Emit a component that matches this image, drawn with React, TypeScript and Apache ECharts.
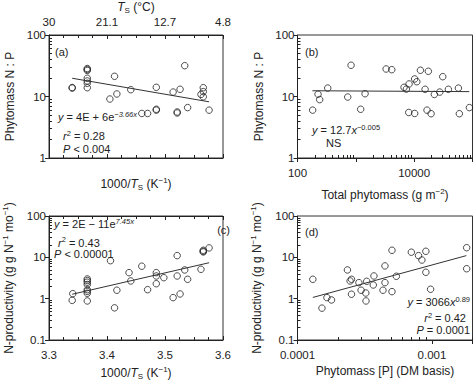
import React, { useEffect, useRef } from "react";
import * as echarts from "echarts";

const FONT = "'Liberation Sans', Arial, Helvetica, sans-serif";
const INK = "#222";

// ---------- Panel (a): 1000/Ts (K^-1) vs phytomass N:P
const aInvT = [3.34, 3.34, 3.366, 3.366, 3.366, 3.366, 3.366, 3.366, 3.366, 3.405, 3.413, 3.417, 3.441, 3.46, 3.47, 3.485, 3.485, 3.485, 3.514, 3.521, 3.521, 3.526, 3.534, 3.539, 3.562, 3.566, 3.566, 3.566, 3.576];
const aNP = [14.0, 13.7, 28.5, 27.5, 26.5, 19.8, 17.9, 16.4, 13.9, 9.1, 21.3, 11.0, 12.9, 5.3, 5.3, 14.1, 6.2, 6.0, 11.8, 5.6, 5.4, 13.1, 31.7, 6.6, 10.8, 13.9, 12.0, 9.9, 6.0];
const aFitInvT = [3.34, 3.576];
const aFitNP = [19.8, 8.2];

// top axis of (a): Ts in degC at 1000/Ts ticks
const invTTicks = [3.3, 3.4, 3.5, 3.6];
const tsLabels = ["30", "21.1", "12.7", "4.8"];
const invTLabels = ["3.3", "3.4", "3.5", "3.6"];

// ---------- Panel (b): total phytomass (g m^-2) vs N:P
const bMass = [182, 225, 240, 330, 726, 828, 1210, 1440, 3300, 4130, 6710, 7350, 8180, 10200, 11100, 8070, 10200, 12800, 15400, 17500, 16600, 19500, 22200, 27500, 30900, 38600, 57300, 59500, 88500];
const bNP = [6.0, 10.9, 8.9, 13.7, 9.8, 32.2, 6.2, 11.1, 28.0, 27.3, 14.1, 13.2, 16.0, 19.3, 17.4, 5.5, 5.3, 26.7, 13.1, 25.7, 6.0, 5.25, 10.8, 11.8, 21.0, 13.1, 13.7, 5.25, 6.6];
const bFitMass = [180, 88000];
const bFitNP = [12.4, 12.0];
const massTicks = [100, 10000];
const massLabels = ["100", "10000"];

// ---------- Panel (c): 1000/Ts vs N-productivity
const cInvT = [3.34, 3.341, 3.366, 3.366, 3.366, 3.366, 3.366, 3.366, 3.366, 3.366, 3.406, 3.417, 3.413, 3.438, 3.441, 3.46, 3.47, 3.485, 3.485, 3.485, 3.498, 3.521, 3.521, 3.514, 3.526, 3.534, 3.539, 3.562, 3.566, 3.566, 3.566, 3.576];
const cNprod = [0.91, 1.32, 3.0, 2.75, 2.5, 2.2, 1.65, 1.5, 1.35, 0.88, 8.3, 1.6, 0.6, 4.26, 2.68, 6.1, 1.65, 4.26, 3.54, 2.3, 3.22, 11.0, 3.54, 1.06, 1.3, 4.95, 2.94, 5.14, 14.8, 14.0, 13.5, 16.9];
const cFitInvT = [3.34, 3.576];
const cFitN = [1.28, 7.4];

// ---------- Panel (d): phytomass [P] (DM basis) vs N-productivity
const dP = [1.3e-4, 1.52e-4, 1.655e-4, 1.79e-4, 2.35e-4, 2.46e-4, 2.52e-4, 2.52e-4, 2.86e-4, 2.97e-4, 3.22e-4, 3.23e-4, 3.27e-4, 3.66e-4, 3.7e-4, 4.47e-4, 4.32e-4, 4.47e-4, 5.04e-4, 5.04e-4, 5.43e-4, 7.02e-4, 7.94e-4, 8.41e-4, 9.0e-4, 9.0e-4, 9.76e-4, 1.81e-3, 1.81e-3];
const dNprod = [2.94, 0.59, 1.06, 0.93, 4.95, 2.68, 2.94, 1.28, 2.44, 1.6, 1.37, 0.88, 2.63, 2.14, 3.54, 2.44, 1.6, 6.2, 14.8, 1.48, 3.48, 13.3, 11.0, 8.6, 14.0, 4.35, 1.69, 17.1, 5.3];
const dFitP = [1.3e-4, 1.8e-3];
const dFitN = [1.07, 11.0];
const pTicks = [0.0001, 0.001];
const pLabels = ["0.0001", "0.001"];

// y tick labels
const npTicks = [1, 10, 100];
const npLabels = ["1", "10", "100"];
const nprodTicks = [0.1, 1, 10, 100];
const nprodLabels = ["0.1", "1", "10", "100"];

const zip = (xs: number[], ys: number[]) => xs.map((x, i) => [x, ys[i]]);

const logLabel = (ticks: number[], labels: string[]) => (v: number) => {
  const i = ticks.findIndex((t) => Math.abs(Math.log10(t) - Math.log10(v)) < 1e-6);
  return i >= 0 ? labels[i] : "";
};
const linLabel = (ticks: number[], labels: string[]) => (v: number) => {
  const i = ticks.findIndex((t) => Math.abs(t - v) < 1e-6);
  return i >= 0 ? labels[i] : "";
};

// minor tick positions (in log10 space) for decades
const minorLog = (e0: number, e1: number) => {
  const out: number[] = [];
  for (let e = e0; e < e1; e++) for (let m = 2; m <= 9; m++) out.push(Math.log10(m * Math.pow(10, e)));
  return out;
};

const nameRich = {
  t: { fontSize: 12, fontFamily: FONT, color: INK, lineHeight: 15 },
  i: { fontSize: 12, fontFamily: FONT, color: INK, lineHeight: 15, fontStyle: "italic" },
  sup: { fontSize: 8, fontFamily: FONT, color: INK, lineHeight: 7, verticalAlign: "top" },
  sub: { fontSize: 8, fontFamily: FONT, color: INK, lineHeight: 7, verticalAlign: "bottom" },
};
const nameStyle = { fontSize: 12, fontFamily: FONT, color: INK, rich: nameRich };

const gRich = {
  t: { fontSize: 11, fontFamily: FONT, fill: INK, lineHeight: 14 },
  i: { fontSize: 11, fontFamily: FONT, fill: INK, lineHeight: 14, fontStyle: "italic" },
  sup: { fontSize: 7.5, fontFamily: FONT, fill: INK, lineHeight: 6, verticalAlign: "top" },
  supi: { fontSize: 7.5, fontFamily: FONT, fill: INK, lineHeight: 6, verticalAlign: "top", fontStyle: "italic" },
};
const gtext = (x: number, y: number, text: string, align = "left", size = 11) => ({
  type: "text",
  x,
  y,
  silent: true,
  z: 100,
  style: { text, rich: gRich, align, verticalAlign: "middle", fill: INK, fontSize: size, fontFamily: FONT },
});

const labelStyle = { fontSize: 11.5, fontFamily: FONT, color: INK };
const lineStyle = { color: INK, width: 1 };

const invTAxis = (grid: number, position: string, showLabels: boolean, labels: string[], name?: string, nameGap?: number) => ({
  type: "value",
  gridIndex: grid,
  position,
  min: 3.3,
  max: 3.6,
  interval: 0.1,
  axisLine: { onZero: false, lineStyle },
  axisTick: { inside: true, length: 4, lineStyle },
  minorTick: { show: true, splitNumber: 4, length: 3, lineStyle },
  splitLine: { show: false },
  axisLabel: { show: showLabels, margin: position === "top" ? 7 : 9, formatter: linLabel(invTTicks, labels), ...labelStyle },
  name,
  nameLocation: "middle",
  nameGap,
  nameTextStyle: nameStyle,
});

const logAxis = (grid: number, position: string, min: number, max: number, ticks: number[], labels: string[], name: string, nameGap: number, vertical: boolean) => ({
  type: "log",
  logBase: 10,
  gridIndex: grid,
  position,
  min,
  max,
  axisLine: { onZero: false, lineStyle },
  axisTick: { inside: false, length: 4, lineStyle },
  splitLine: { show: false },
  axisLabel: { margin: vertical ? 3 : 9, formatter: logLabel(ticks, labels), showMaxLabel: true, ...labelStyle },
  name,
  nameLocation: "middle",
  nameGap,
  nameRotate: vertical ? 90 : 0,
  nameTextStyle: nameStyle,
});

const minorAxis = (grid: number, position: string, e0: number, e1: number, maxVal?: number) => ({
  type: "value",
  gridIndex: grid,
  position,
  min: e0,
  max: maxVal !== undefined ? maxVal : e1,
  axisLine: { show: false, onZero: false },
  axisLabel: { show: false },
  splitLine: { show: false },
  axisTick: { show: true, inside: true, length: 3, lineStyle, customValues: minorLog(e0, e1) },
});

const scatter = (xi: number, yi: number, xs: number[], ys: number[]) => ({
  type: "scatter",
  xAxisIndex: xi,
  yAxisIndex: yi,
  data: zip(xs, ys),
  symbol: "circle",
  symbolSize: 6.5,
  itemStyle: { color: "rgba(0,0,0,0)", borderColor: INK, borderWidth: 1 },
  silent: true,
});
const fit = (xi: number, yi: number, xs: number[], ys: number[]) => ({
  type: "line",
  xAxisIndex: xi,
  yAxisIndex: yi,
  data: zip(xs, ys),
  showSymbol: false,
  symbol: "none",
  lineStyle: { color: "#333", width: 1 },
  silent: true,
});

const gridBase = { show: true, borderColor: "#333", borderWidth: 1, backgroundColor: "transparent", containLabel: false, outerBoundsMode: "none" };

export default function App() {
  const ref = useRef<HTMLDivElement>(null);
  useEffect(() => {
    if (!ref.current) return;
    const chart = echarts.init(ref.current, undefined, { renderer: "svg" });
    const option: any = {
      animation: false,
      backgroundColor: "#fff",
      textStyle: { fontFamily: FONT },
      grid: [
        { ...gridBase, left: 49, top: 35, width: 174, height: 123 },
        { ...gridBase, left: 297.5, top: 35, width: 175, height: 123 },
        { ...gridBase, left: 49, top: 216, width: 174, height: 124 },
        { ...gridBase, left: 297.5, top: 216, width: 175, height: 124 },
      ],
      xAxis: [
        invTAxis(0, "bottom", false, invTLabels, "{t|1000/}{i|T}{sub|S}{t| (K}{sup|−1}{t|)}", 18),
        invTAxis(0, "top", true, tsLabels, "{i|T}{sub|S}{t| (°C)}", 21),
        logAxis(1, "bottom", 100, 100000, massTicks, massLabels, "{t|Total phytomass (g m}{sup|−2}{t|)}", 29, false),
        minorAxis(1, "bottom", 2, 5),
        invTAxis(2, "bottom", true, invTLabels, "{t|1000/}{i|T}{sub|S}{t| (K}{sup|−1}{t|)}", 25),
        invTAxis(2, "top", false, invTLabels),
        logAxis(3, "bottom", 0.0001, 0.002, pTicks, pLabels, "Phytomass [P] (DM basis)", 25, false),
        minorAxis(3, "bottom", -4, -2, Math.log10(0.002)),
      ],
      yAxis: [
        logAxis(0, "left", 1, 100, npTicks, npLabels, "Phytomass N : P", 33, true),
        minorAxis(0, "left", 0, 2),
        logAxis(1, "left", 1, 100, npTicks, npLabels, "Phytomass N : P", 33, true),
        minorAxis(1, "left", 0, 2),
        logAxis(2, "left", 0.1, 100, nprodTicks, nprodLabels, "{t|N-productivity (g g N}{sup|−1}{t| mo}{sup|−1}{t|)}", 33, true),
        minorAxis(2, "left", -1, 2),
        logAxis(3, "left", 0.1, 100, nprodTicks, nprodLabels, "{t|N-productivity (g g N}{sup|−1}{t| mo}{sup|−1}{t|)}", 33, true),
        minorAxis(3, "left", -1, 2),
      ],
      series: [
        scatter(0, 0, aInvT, aNP),
        fit(0, 0, aFitInvT, aFitNP),
        scatter(2, 2, bMass, bNP),
        fit(2, 2, bFitMass, bFitNP),
        scatter(4, 4, cInvT, cNprod),
        fit(4, 4, cFitInvT, cFitN),
        scatter(6, 6, dP, dNprod),
        fit(6, 6, dFitP, dFitN),
      ],
      graphic: [
        gtext(55, 52, "{t|(a)}", "left", 12),
        gtext(58, 117, "{i|y}{t| = 4E + 6e}{supi|−3.66x}"),
        gtext(63, 136, "{i|r}{sup|2}{t| = 0.28}"),
        gtext(63, 149, "{i|P}{t| < 0.004}"),
        gtext(305, 52, "{t|(b)}", "left", 12),
        gtext(312, 130, "{i|y}{t| = 12.7}{i|x}{sup|−0.005}"),
        gtext(326, 143, "{t|NS}"),
        gtext(230, 230, "{t|(c)}", "right", 12),
        gtext(54, 224, "{i|y}{t| = 2E − 11e}{supi|7.45x}"),
        gtext(58, 242.5, "{i|r}{sup|2}{t| = 0.43}"),
        gtext(54, 253.5, "{i|P}{t| < 0.00001}"),
        gtext(305, 232, "{t|(d)}", "left", 12),
        gtext(470, 302, "{i|y}{t| = 3066}{i|x}{sup|0.89}", "right"),
        gtext(466, 318, "{i|r}{sup|2}{t| = 0.42}", "right"),
        gtext(470, 330, "{i|P}{t| = 0.0001}", "right"),
      ],
    };
    chart.setOption(option);
    return () => chart.dispose();
  }, []);
  return <div ref={ref} style={{ position: "fixed", left: 0, top: 0, width: 474, height: 383 }} />;
}
